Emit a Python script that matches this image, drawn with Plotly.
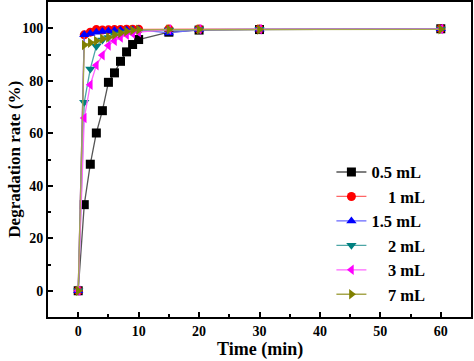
import plotly.graph_objects as go

time = [0, 1, 2, 3, 4, 5, 6, 7, 8, 9, 10, 15, 20, 30, 60]
labels = ["0.5 mL", "\u2007\u2008 1 mL", "1.5 mL", "\u2007\u2008 2 mL", "\u2007\u2008 3 mL", "\u2007\u2008 7 mL"]
s05 = [0, 32.8, 48.2, 60.1, 68.6, 79.4, 83.0, 87.4, 91.0, 93.8, 95.7, 98.5, 99.3, 99.5, 99.8]
s1 = [0, 97.5, 98.5, 99.5, 99.3, 99.4, 99.5, 99.5, 99.6, 99.6, 99.6, 99.7, 99.7, 99.7, 99.8]
s15 = [0, 97.5, 98.0, 98.5, 98.8, 99.0, 99.1, 99.2, 99.3, 99.3, 99.4, 98.2, 99.5, 99.6, 99.8]
s2 = [0, 71.8, 84.5, 93.1, 95.5, 96.5, 97.3, 97.8, 98.3, 98.6, 98.9, 99.3, 99.5, 99.6, 99.7]
s3 = [0, 65.8, 78.5, 85.9, 89.7, 93.4, 95.2, 96.5, 97.5, 98.0, 98.5, 99.5, 99.6, 99.6, 99.7]
s7 = [0, 93.6, 94.5, 95.2, 96.0, 96.5, 97.5, 98.2, 98.8, 99.2, 99.4, 99.5, 99.5, 99.5, 99.6]
series = [s05, s1, s15, s2, s3, s7]
colors = ["#000000", "#FF0000", "#0000FF", "#008080", "#FF00FF", "#808000"]
line_colors = ["#555555", "#FF6666", "#6666FF", "#4DA6A6", "#FF66FF", "#A6A64D"]
symbols = ["square", "circle", "triangle-up", "triangle-down", "triangle-left", "triangle-right"]

fig = go.Figure()
for lab, ys, c, lc, sym in zip(labels, series, colors, line_colors, symbols):
    fig.add_trace(go.Scatter(
        x=time, y=ys, name=lab, mode="lines+markers",
        line=dict(color=lc, width=1.3),
        marker=dict(symbol=sym, size=9, color=c),
    ))

font = "Liberation Serif, Times New Roman, serif"
fig.update_layout(
    width=474, height=361,
    margin=dict(l=48, r=3, t=2, b=44),
    plot_bgcolor="white", paper_bgcolor="white",
    font=dict(family=font, color="black"),
    showlegend=True,
    legend=dict(x=0.67, y=0.515, xanchor="left", yanchor="top",
                bgcolor="rgba(0,0,0,0)", borderwidth=0,
                font=dict(family=font, size=16.5, color="black", weight="bold"),
                tracegroupgap=0, itemwidth=30),
    xaxis=dict(range=[-5, 65], tickvals=[0, 10, 20, 30, 40, 50, 60],
               ticks="inside", ticklen=5, tickwidth=1.5, tickcolor="black",
               minor=dict(tickvals=[5, 15, 25, 35, 45, 55], ticks="inside", ticklen=3, tickcolor="black", tickwidth=1.5),
               showline=True, linecolor="black", linewidth=2, mirror=True,
               showgrid=False, zeroline=False, automargin=False,
               tickfont=dict(family=font, size=14, color="black", weight="bold")),
    yaxis=dict(range=[-10, 110], tickvals=[0, 20, 40, 60, 80, 100],
               ticks="inside", ticklen=5, tickwidth=1.5, tickcolor="black",
               minor=dict(tickvals=[10, 30, 50, 70, 90], ticks="inside", ticklen=3, tickcolor="black", tickwidth=1.5),
               showline=True, linecolor="black", linewidth=2, mirror=True,
               showgrid=False, zeroline=False, automargin=False,
               tickfont=dict(family=font, size=14, color="black", weight="bold")),
    annotations=[
        dict(text="Time (min)", xref="paper", yref="paper", x=0.5, y=-0.103,
             xanchor="center", yanchor="middle", showarrow=False,
             font=dict(family=font, size=18, color="black", weight="bold")),
        dict(text="Degradation rate (%)", xref="paper", yref="paper", x=-0.08, y=0.5,
             xanchor="center", yanchor="middle", showarrow=False, textangle=-90,
             font=dict(family=font, size=17, color="black", weight="bold")),
    ],
)
fig.write_html("out.html", config={"displayModeBar": False},
               post_script="document.body.style.margin='0';document.body.style.overflow='hidden';")
